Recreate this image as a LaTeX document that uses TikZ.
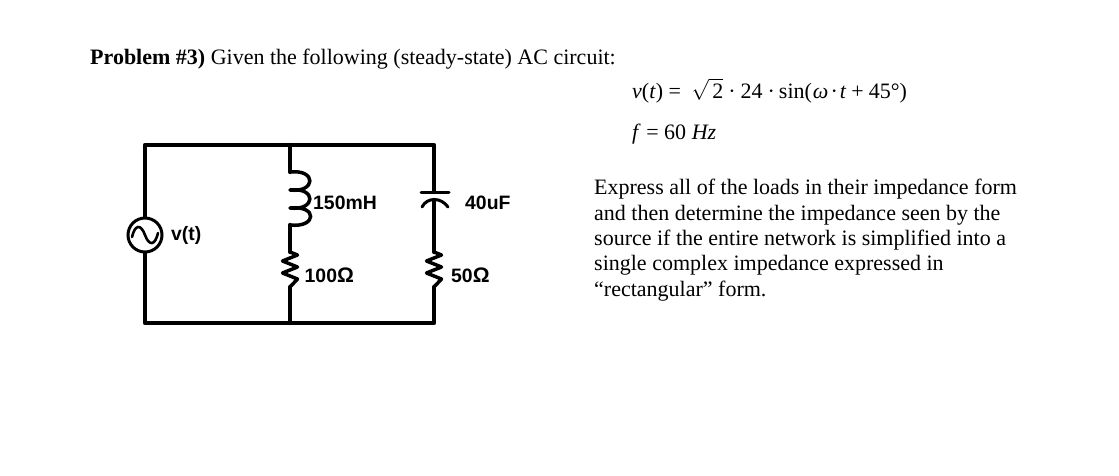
\documentclass[tikz,border=0pt]{standalone}
\usepackage{amsmath}
\usepackage{fontspec}
\setmainfont{Liberation Serif}
\setsansfont{Liberation Sans}
\usetikzlibrary{positioning}
\newcommand{\ohmsign}{{\fontsize{21}{22}\selectfont Ω}}
\tikzset{
wire/.style={line width=4.3pt,line cap=round,line join=round},
source/.style={circle,draw,line width=3pt,minimum size=34pt,inner sep=0pt,fill=white},
label/.style={font=\sffamily\bfseries\fontsize{19.4}{22}\selectfont,inner sep=0pt,anchor=base west},
prose/.style={font=\fontsize{22}{25.3}\selectfont,inner sep=0pt,anchor=base west,align=left},
}
\begin{document}
\begin{tikzpicture}[x=1pt,y=-1pt]
\useasboundingbox (0,0) rectangle (1119,475);
% corners and junctions
\coordinate (tl) at (145,145);
\coordinate (tm) at (290,145);
\coordinate (tr) at (434,145);
\coordinate (bl) at (145,323);
\coordinate (bm) at (290,323);
\coordinate (br) at (434,323);
\coordinate (la) at (290,172);
\coordinate (lb) at (290,225);
\coordinate (ra) at (290,252);
\coordinate (rb) at (290,287);
\coordinate (ca) at (434,192);
\coordinate (cb) at (434,200);
\coordinate (sa) at (434,252);
\coordinate (sb) at (434,287);
\node [source] (vs) at (145,235) {};
% wires
\draw [wire] (vs) -- (tl) -- (tm) -- (tr) -- (ca);
\draw [wire] (vs) -- (bl) -- (bm) -- (br) -- (sb);
\draw [wire] (tm) -- (la);
\draw [wire] (lb) -- (ra);
\draw [wire] (rb) -- (bm);
\draw [wire] (cb) -- (sa);
% inductor
\draw [wire,line width=3.5pt] (la) .. controls +(27,-3) and +(26,3) .. ++(0,18)
  .. controls +(27,-3) and +(26,3) .. ++(0,18)
  .. controls +(28,-3) and +(27,3) .. (lb);
% resistors
\draw [wire,line width=3.5pt] (ra) -- ++(7.5,3) -- ++(-15,6) -- ++(15,6) -- ++(-15,6) -- ++(15,6) -- ++(-7.5,8) -- (rb);
\draw [wire,line width=3.5pt] (sa) -- ++(7.5,3) -- ++(-15,6) -- ++(15,6) -- ++(-15,6) -- ++(15,6) -- ++(-7.5,8) -- (sb);
% capacitor
\coordinate (pa) at (421,192);
\coordinate (pb) at (449,192);
\coordinate (qa) at (422,207);
\coordinate (qb) at (448,207);
\draw [wire,line width=3pt] (pa) -- (pb);
\draw [wire,line width=3pt] (qa) .. controls (427,197) and (441,197) .. (qb);
% sine in the source
\draw [line width=2.6pt,line cap=round] (132,237) .. controls (135,224) and (141,224) .. (145,235)
  .. controls (149,246) and (155,246) .. (158,233);
% labels
\node [label] (lv) at (171,240) {v(t)};
\node [label] (ll) at (313,209) {150mH};
\node [label] (lc) at (465,209) {40uF};
\node [label] (lr) at (304.5,282) {100\ohmsign};
\node [label] (ls) at (451,282) {50\ohmsign};
% text
\node [prose] (title) at (90,64) {\textbf{Problem \#3)} Given the following (steady-state) AC circuit:};
\node [prose] (eqv) at (632,98) {\textit{v}(\textit{t}) = \hspace{5pt}$\sqrt{\,\text{2}}$\hspace{5pt}·\hspace{5pt}24\hspace{5pt}·\hspace{4pt}sin(\hspace{1pt}\textit{ω}\hspace{2pt}·\hspace{2pt}\textit{t}\hspace{5pt}+\hspace{5pt}45°)};
\node [prose] (eqf) at (632,139) {\textit{f} = 60 \textit{Hz}};
\node [prose] (task) at (594,296) {Express all of the loads in their impedance form\\and then determine the impedance seen by the\\source if the entire network is simplified into a\\single complex impedance expressed in\\“rectangular” form.};
\end{tikzpicture}
\end{document}
